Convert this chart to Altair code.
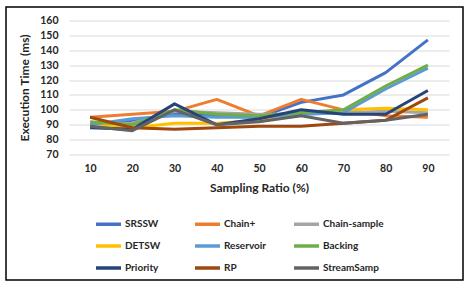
import altair as alt
import pandas as pd

# Sampling ratios (%) on the x axis
ratios = [10, 20, 30, 40, 50, 60, 70, 80, 90]

# Execution time (ms) for each sampling method
srssw        = [90, 93, 97, 96, 95, 105, 110, 125, 147]
chain_plus   = [95, 97, 99, 107, 96, 107, 100, 96, 95]
chain_sample = [89, 91, 99, 98, 97, 97, 98, 99, 98]
detsw        = [90, 88, 91, 91, 93, 97, 100, 101, 100]
reservoir    = [90, 94, 96, 95, 95, 97, 98, 114, 128]
backing      = [92, 90, 100, 97, 96, 98, 100, 116, 130]
priority     = [88, 87, 104, 90, 94, 100, 97, 97, 113]
rp           = [95, 88, 87, 88, 89, 89, 91, 93, 108]
streamsamp   = [89, 86, 100, 90, 92, 96, 91, 93, 97]

methods = ["SRSSW", "Chain+", "Chain-sample", "DETSW", "Reservoir",
           "Backing", "Priority", "RP", "StreamSamp"]
series = [srssw, chain_plus, chain_sample, detsw, reservoir,
          backing, priority, rp, streamsamp]
colors = ["#4472C4", "#ED7D31", "#A5A5A5", "#FFC000", "#5B9BD5",
          "#70AD47", "#264478", "#9E480E", "#636363"]

rows = []
for order, (name, vals) in enumerate(zip(methods, series)):
    for r, v in zip(ratios, vals):
        rows.append({"method": name, "ratio": r, "time": v, "order": order})
df = pd.DataFrame(rows)

FONT = "Lato"
TEXT = "#262626"

lines = alt.Chart(df).mark_line(strokeWidth=3, strokeJoin="round").encode(
    x=alt.X("ratio:O",
            scale=alt.Scale(type="point", padding=0.5),
            axis=alt.Axis(title="Sampling Ratio (%)", labelAngle=0,
                          ticks=False, domain=False, grid=False,
                          labelPadding=9, titlePadding=8)),
    y=alt.Y("time:Q",
            scale=alt.Scale(domain=[70, 160], nice=False, zero=False),
            axis=alt.Axis(title="Execution Time (ms)", values=list(range(70, 161, 10)),
                          ticks=False, domain=False, grid=True,
                          labelPadding=11, titlePadding=8)),
    color=alt.Color("method:N",
                    scale=alt.Scale(domain=methods, range=colors),
                    legend=alt.Legend(title=None, orient="none", columns=3,
                                      legendX=25, legendY=189,
                                      direction="horizontal",
                                      symbolType="stroke", symbolSize=625,
                                      symbolStrokeWidth=3.5,
                                      gridAlign="all", columnPadding=2,
                                      rowPadding=-2, labelOffset=2)),
    order=alt.Order("order:Q"),
)

frame = alt.Chart(alt.Data(values=[{}])).mark_rect(
    fill=None, stroke="#000000", strokeWidth=1.5
).encode(
    x=alt.value(-63), x2=alt.value(394),
    y=alt.value(-13.5), y2=alt.value(259.5),
)

chart = alt.layer(lines, frame).properties(
    width=380, height=134,
    padding={"left": 69, "top": 20.5, "right": 25, "bottom": 130.5},
    autosize=alt.AutoSizeParams(type="none"),
    background="white",
).configure_view(stroke=None).configure_axis(
    labelFont=FONT, labelFontWeight="bold", labelFontSize=10.5, labelColor=TEXT,
    titleFont=FONT, titleFontWeight="bold", titleFontSize=12, titleColor=TEXT,
    gridColor="#D9D9D9", gridWidth=1.2,
).configure_legend(
    labelFont=FONT, labelFontWeight="bold", labelFontSize=10, labelColor=TEXT,
)

chart.save("out.html", embed_options={"renderer": "svg", "actions": False})
